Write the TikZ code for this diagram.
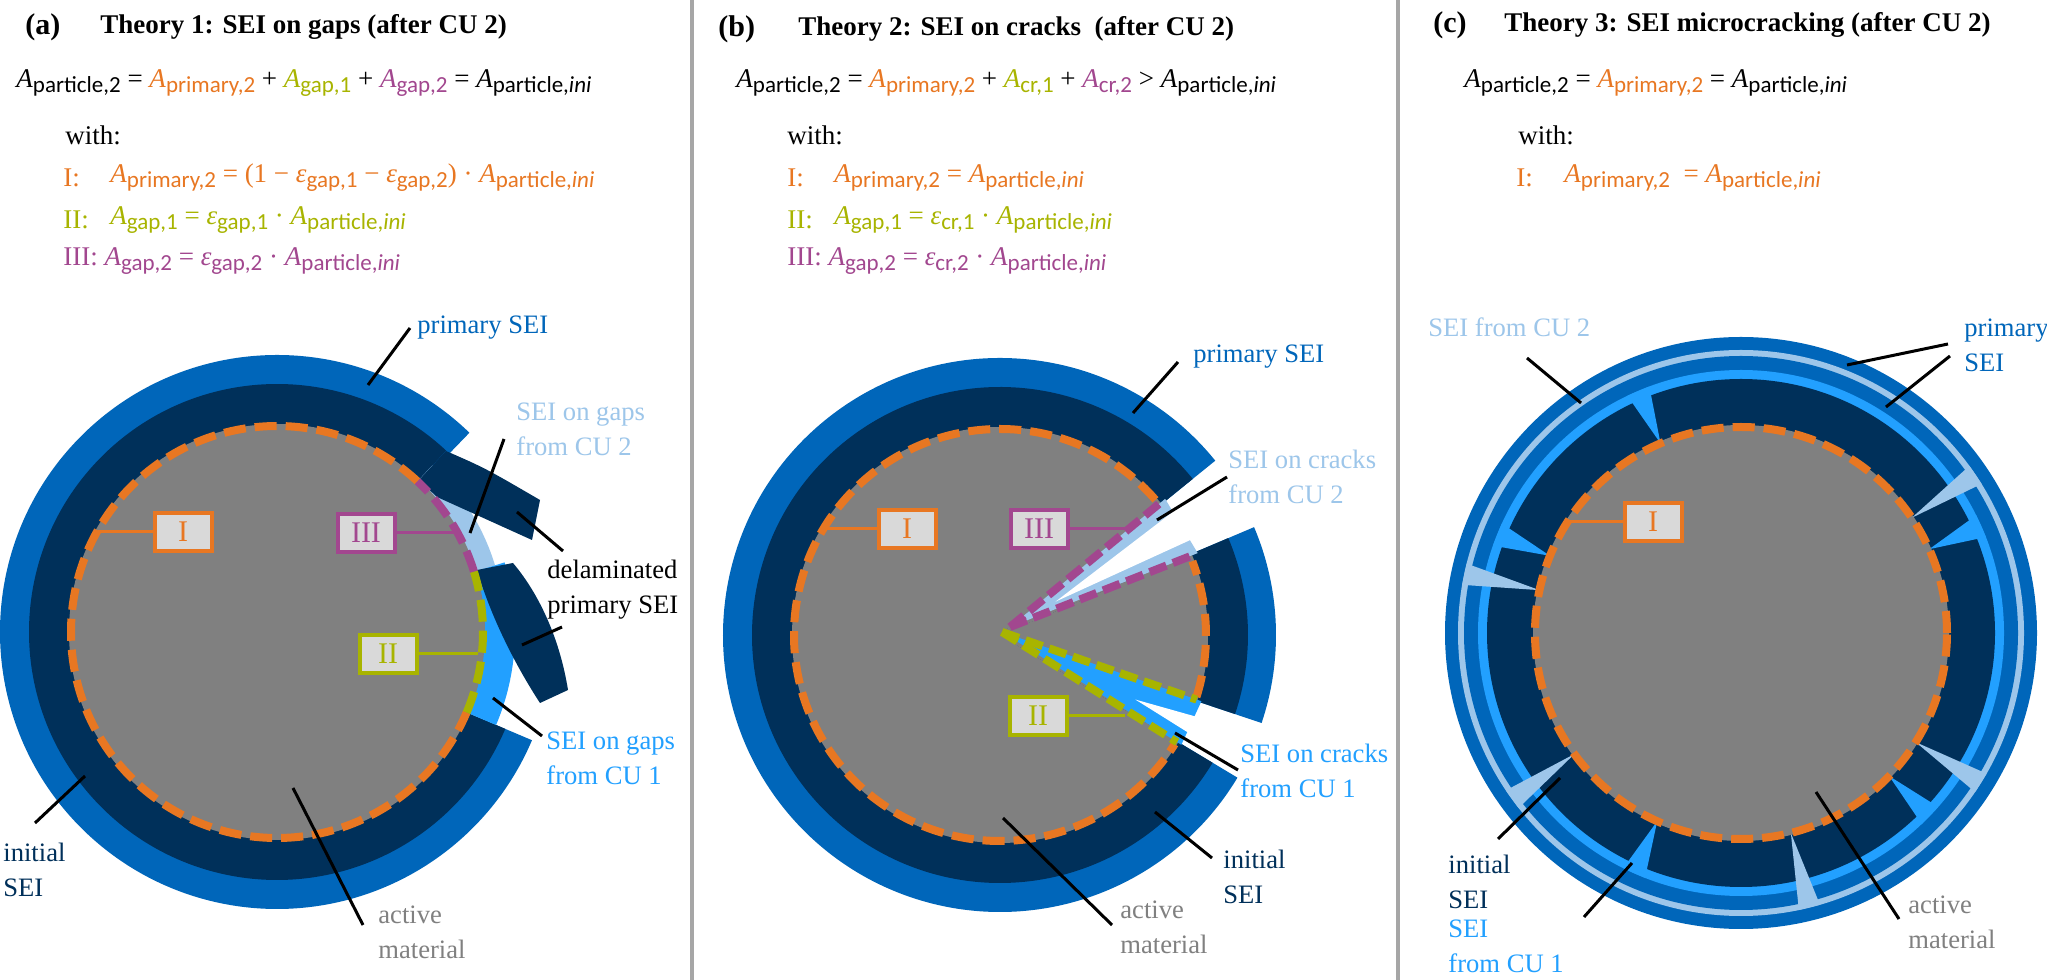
\documentclass[tikz,border=0pt]{standalone}
\usepackage{fontspec}
\setmainfont{Liberation Serif}
\newfontfamily\carl{Carlito}
\usetikzlibrary{calc}
\definecolor{pblue}{HTML}{0066BA}
\definecolor{navy}{HTML}{00305A}
\definecolor{bblue}{HTML}{22A0FF}
\definecolor{lblue}{HTML}{9DC6EA}
\definecolor{agray}{HTML}{808080}
\definecolor{ora}{HTML}{E87722}
\definecolor{grn}{HTML}{A8B400}
\definecolor{mag}{HTML}{A2478F}
\definecolor{boxg}{HTML}{D9D9D9}
\definecolor{divg}{HTML}{A6A6A6}
\newcommand\Av[1]{\textit{A}\raisebox{-0.4ex}{\carl\fontsize{11.5}{11.5}\selectfont #1}}
\newcommand\Ev[1]{\textit{ε}\raisebox{-0.4ex}{\carl\fontsize{11.5}{11.5}\selectfont #1}}
\newcommand\inii{\textit{ini}}
\newcommand\sect[5]{\fill[#1] (#2) -- ($(#2)+(#3:#5)$) arc[start angle=#3, end angle=#4, radius=#5] -- cycle;}
\newcommand\wdg[5]{\fill[#1] ($(#2)+({#3-#4}:#5)$) -- ($(#2)+({#3+#4}:#5)$) -- ($(#2)+(#3:206)$) -- cycle;}
\begin{document}
\begin{tikzpicture}[x=0.5pt,y=0.5pt,
  lbl/.style={anchor=west,font=\rmfamily\fontsize{13.3}{17.5}\selectfont,align=left,inner sep=0pt},
  ttl/.style={anchor=west,font=\rmfamily\fontsize{13.5}{14}\selectfont\bfseries,inner sep=0pt},
  frm/.style={anchor=west,font=\rmfamily\fontsize{13.5}{15}\selectfont,inner sep=0pt},
  lead/.style={line width=1.5pt,black},
  rbox/.style={draw=#1,text=#1,fill=boxg,line width=2pt,minimum width=28.5pt,minimum height=19pt,inner sep=0pt,font=\rmfamily\fontsize{15}{15}\selectfont},
  odash/.style={line width=4pt,dash pattern=on 11pt off 4.5pt,#1},
  sdash/.style={line width=4pt,dash pattern=on 9pt off 3.5pt,#1}]
\useasboundingbox (0,0) rectangle (2047,980);
\fill[white] (0,0) rectangle (2047,980);
% dividers
\draw[divg,line width=2pt] (692,0) -- (692,980);
\draw[divg,line width=2pt] (1398,0) -- (1398,980);

% ===== titles and formulas =====
\node[ttl,font=\rmfamily\fontsize{15}{15}\selectfont\bfseries] (la) at (25,953) {(a)};
\node[ttl] (ta) at (100,953) {Theory 1: SEI on gaps (after CU 2)};
\node[ttl,font=\rmfamily\fontsize{15}{15}\selectfont\bfseries] (lb) at (718,951) {(b)};
\node[ttl] (tb) at (798,951) {Theory 2: SEI on cracks\ \ (after CU 2)};
\node[ttl,font=\rmfamily\fontsize{15}{15}\selectfont\bfseries] (lc) at (1433,955) {(c)};
\node[ttl] (tc) at (1504,955) {Theory 3: SEI microcracking (after CU 2)};

% (a)
\node[frm] (fa0) at (16,897) {\Av{particle,2} = \textcolor{ora}{\Av{primary,2}} + \textcolor{grn}{\Av{gap,1}} + \textcolor{mag}{\Av{gap,2}} = \Av{particle,\inii}};
\node[frm] (wa) at (65,845) {with:};
\node[frm,ora] (fa1l) at (63,802) {I:};
\node[frm,ora] (fa1) at (110,802) {\Av{primary,2} = (1 − \Ev{gap,1} − \Ev{gap,2}) · \Av{particle,\inii}};
\node[frm,grn] (fa2l) at (63,760) {II:};
\node[frm,grn] (fa2) at (110,760) {\Av{gap,1} = \Ev{gap,1} · \Av{particle,\inii}};
\node[frm,mag] (fa3) at (63,719) {III: \Av{gap,2} = \Ev{gap,2} · \Av{particle,\inii}};
% (b)
\node[frm] (fb0) at (736,897) {\Av{particle,2} = \textcolor{ora}{\Av{primary,2}} + \textcolor{grn}{\Av{cr,1}} + \textcolor{mag}{\Av{cr,2}} > \Av{particle,\inii}};
\node[frm] (wb) at (787,845) {with:};
\node[frm,ora] (fb1l) at (787,802) {I:};
\node[frm,ora] (fb1) at (834,802) {\Av{primary,2} = \Av{particle,\inii}};
\node[frm,grn] (fb2l) at (787,760) {II:};
\node[frm,grn] (fb2) at (834,760) {\Av{gap,1} = \Ev{cr,1} · \Av{particle,\inii}};
\node[frm,mag] (fb3) at (787,719) {III: \Av{gap,2} = \Ev{cr,2} · \Av{particle,\inii}};
% (c)
\node[frm] (fc0) at (1464,897) {\Av{particle,2} = \textcolor{ora}{\Av{primary,2}} = \Av{particle,\inii}};
\node[frm] (wc) at (1518,845) {with:};
\node[frm,ora] (fc1l) at (1516,802) {I:};
\node[frm,ora] (fc1) at (1564,802) {\Av{primary,2}\ \ = \Av{particle,\inii}};

% ===== panel (a) =====
\coordinate (A) at (277,348);
\sect{pblue}{A}{46}{337}{277}
\sect{navy}{A}{47}{337}{248}
\sect{lblue}{A}{17}{47}{228}
\sect{bblue}{A}{-23}{17}{238}
\fill[agray] (A) circle[radius=208];
\fill[navy] (419,500) -- (446,529) .. controls (485,512) .. (540,480) -- (532,440) .. controls (485,462) .. (437,483) -- cycle;
\fill[navy] (477,410) -- (513,417) .. controls (540,385) and (560,340) .. (568,290) -- (540,277) .. controls (525,300) and (495,350) .. (477,410) -- cycle;
\draw[odash=ora] ($(A)+(47:206)$) arc[start angle=47,end angle=337,radius=206];
\draw[odash=mag] ($(A)+(17:206)$) arc[start angle=17,end angle=47,radius=206];
\draw[odash=grn] ($(A)+(-23:206)$) arc[start angle=-23,end angle=17,radius=206];
\node[rbox=ora] (bIa) at (183,448) {I};
\node[rbox=mag] (bIIIa) at (366,447) {III};
\node[rbox=grn] (bIIa) at (388,326) {II};
\coordinate (eIa) at (98,448); \coordinate (eIIIa) at (458,447); \coordinate (eIIa) at (478,326);
\draw[ora,line width=1.5pt] (bIa.west) -- (eIa);
\draw[mag,line width=1.5pt] (bIIIa.east) -- (eIIIa);
\draw[grn,line width=1.5pt] (bIIa.east) -- (eIIa);
\node[lbl,pblue] (pa) at (417,652) {primary SEI};
\node[lbl,lblue] (g2a) at (516,551) {SEI on gaps\\from CU 2};
\node[lbl,black] (da) at (547,390) {delaminated\\primary SEI};
\node[lbl,bblue] (g1a) at (546,222) {SEI on gaps\\from CU 1};
\node[lbl,navy] (ia) at (3,110) {initial\\SEI};
\node[lbl,agray] (aa) at (378,48) {active\\material};
\coordinate (pa1) at (410,652); \coordinate (pa2) at (368,595);
\coordinate (g2a1) at (504,541); \coordinate (g2a2) at (470,447);
\coordinate (da1) at (563,429); \coordinate (da2) at (517,468);
\coordinate (da3) at (562,353); \coordinate (da4) at (522,335);
\coordinate (g1a1) at (542,244); \coordinate (g1a2) at (493,282);
\coordinate (ia1) at (35,157); \coordinate (ia2) at (85,204);
\coordinate (aa1) at (363,55); \coordinate (aa2) at (293,192);
\draw[lead] (pa1) -- (pa2); \draw[lead] (g2a1) -- (g2a2);
\draw[lead] (da1) -- (da2); \draw[lead] (da3) -- (da4);
\draw[lead] (g1a1) -- (g1a2); \draw[lead] (ia1) -- (ia2); \draw[lead] (aa1) -- (aa2);

% ===== panel (b) =====
\coordinate (B) at (1000,345);
\coordinate (T1) at (1010,353);
\coordinate (T2) at (1002,348);
\sect{pblue}{B}{39}{329}{277}
\sect{navy}{B}{39}{329}{248}
\sect{pblue}{B}{-18.6}{23}{276}
\sect{navy}{B}{-18.6}{23}{248}
\sect{agray}{B}{39}{329}{208}
\sect{agray}{B}{-18.6}{23}{208}
\fill[agray] (B) -- ($(B)+(23:208)$) -- ($(B)+(39:208)$) -- cycle;
\fill[agray] (B) -- ($(B)+(-31:208)$) -- ($(B)+(-18.6:208)$) -- cycle;
\fill[lblue] (T1) -- ($(B)+(39.5:214)$) -- ($(B)+(22.5:214)$) -- cycle;
\fill[white] ($(B)+(31:65)$) -- ($(B)+(35.5:216)$) -- ($(B)+(26.5:216)$) -- cycle;
\fill[bblue] (T2) -- ($(B)+(-18.2:212)$) -- ($(B)+(-31.2:212)$) -- cycle;
\fill[white] ($(B)+(-25.5:150)$) -- ($(B)+(-22.5:216)$) -- ($(B)+(-27.5:216)$) -- cycle;
\draw[odash=ora] ($(B)+(41:206)$) arc[start angle=41,end angle=328,radius=206];
\draw[odash=ora] ($(B)+(-17.5:206)$) arc[start angle=-17.5,end angle=21,radius=206];
\draw[sdash=mag] (T1) -- ($(B)+(39.5:207)$);
\draw[sdash=mag] (T1) -- ($(B)+(22.5:207)$);
\draw[sdash=grn] (T2) -- ($(B)+(-18.2:207)$);
\draw[sdash=grn] (T2) -- ($(B)+(-31.2:207)$);
\node[rbox=ora] (bIb) at (907,451) {I};
\node[rbox=mag] (bIIIb) at (1039,451) {III};
\node[rbox=grn] (bIIb) at (1038,264) {II};
\coordinate (eIb) at (827,451); \coordinate (eIIIb) at (1127,451); \coordinate (eIIb) at (1125,264);
\draw[ora,line width=1.5pt] (bIb.west) -- (eIb);
\draw[mag,line width=1.5pt] (bIIIb.east) -- (eIIIb);
\draw[grn,line width=1.5pt] (bIIb.east) -- (eIIb);
\node[lbl,pblue] (pb) at (1193,623) {primary SEI};
\node[lbl,lblue] (c2b) at (1228,503) {SEI on cracks\\from CU 2};
\node[lbl,bblue] (c1b) at (1240,209) {SEI on cracks\\from CU 1};
\node[lbl,navy] (ib) at (1223,103) {initial\\SEI};
\node[lbl,agray] (ab) at (1120,53) {active\\material};
\coordinate (pb1) at (1178,618); \coordinate (pb2) at (1133,567);
\coordinate (c2b1) at (1227,503); \coordinate (c2b2) at (1157,460);
\coordinate (c1b1) at (1238,210); \coordinate (c1b2) at (1175,247);
\coordinate (ib1) at (1212,122); \coordinate (ib2) at (1155,168);
\coordinate (ab1) at (1112,55); \coordinate (ab2) at (1003,162);
\draw[lead] (pb1) -- (pb2); \draw[lead] (c2b1) -- (c2b2); \draw[lead] (c1b1) -- (c1b2);
\draw[lead] (ib1) -- (ib2); \draw[lead] (ab1) -- (ab2);

% ===== panel (c) =====
\coordinate (C) at (1741,347);
\fill[pblue] (C) circle[radius=296];
\fill[lblue] (C) circle[radius=283];
\fill[pblue] (C) circle[radius=277];
\fill[bblue] (C) circle[radius=263];
\fill[navy] (C) circle[radius=254];
\foreach \a in {113,158,246,316,24} {\wdg{bblue}{C}{\a}{2.6}{263}}
\foreach \a in {168,216,284,328,34} {\wdg{lblue}{C}{\a}{2.2}{283}}
\fill[agray] (C) circle[radius=208];
\draw[odash=ora] (C) circle[radius=206];
\node[rbox=ora] (bIc) at (1653,458) {I};
\coordinate (eIc) at (1568,458);
\draw[ora,line width=1.5pt] (bIc.west) -- (eIc);
\node[lbl,lblue] (c2c) at (1428,653) {SEI from CU 2};
\node[lbl,pblue] (pc) at (1964,635) {primary\\SEI};
\node[lbl,navy] (ic) at (1448,98) {initial\\SEI};
\node[lbl,bblue] (c1c) at (1448,34) {SEI\\from CU 1};
\node[lbl,agray] (ac) at (1908,58) {active\\material};
\coordinate (c2c1) at (1527,622); \coordinate (c2c2) at (1581,577);
\coordinate (pc1) at (1948,636); \coordinate (pc2) at (1847,615);
\coordinate (pc3) at (1950,624); \coordinate (pc4) at (1886,573);
\coordinate (ic1) at (1498,141); \coordinate (ic2) at (1560,202);
\coordinate (c1c1) at (1584,63); \coordinate (c1c2) at (1632,117);
\coordinate (ac1) at (1899,61); \coordinate (ac2) at (1816,188);
\draw[lead] (c2c1) -- (c2c2); \draw[lead] (pc1) -- (pc2); \draw[lead] (pc3) -- (pc4);
\draw[lead] (ic1) -- (ic2); \draw[lead] (c1c1) -- (c1c2); \draw[lead] (ac1) -- (ac2);
\end{tikzpicture}
\end{document}
